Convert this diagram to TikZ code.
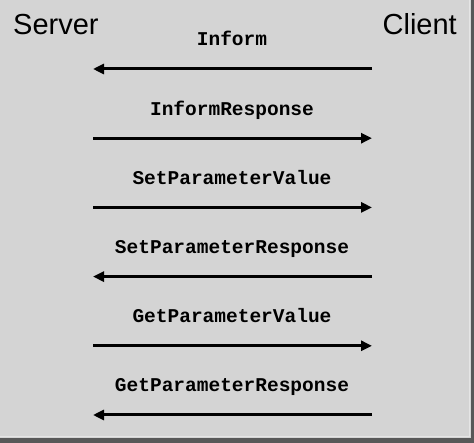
\documentclass[tikz,border=0pt]{standalone}
\usepackage{fontspec}
\setmainfont{Liberation Sans}
\newfontfamily\msgfont{Liberation Mono}
\usetikzlibrary{arrows.meta}
\definecolor{panel}{RGB}{212,212,212}
\definecolor{rim}{RGB}{88,88,88}

\begin{document}
\begin{tikzpicture}[x=1pt, y=-1pt,
    party/.style={font=\fontsize{29}{31}\selectfont, inner sep=0pt},
    msg/.style={font=\msgfont\bfseries\fontsize{19.5}{21}\selectfont, inner sep=0pt, anchor=base},
    flow/.style={line width=3pt, -{Triangle[length=11pt,width=10pt]}}]
    \useasboundingbox (0,0) rectangle (474,443);
    % Frame
    \fill[rim] (0,0) rectangle (474,443);
    \fill[panel] (0,0) rectangle (471,438);
    \draw[white!40!panel, line width=1pt] (0,436.5) -- (469.5,436.5) -- (469.5,0);

    % Parties
    \node[party, anchor=base west] (server) at (13,35) {Server};
    \node[party, anchor=base east] (client) at (457,35) {Client};

    % Messages (from -> to)
    \foreach \i/\txt/\from/\to in {0/Inform/c/s, 1/InformResponse/s/c, 2/SetParameterValue/s/c,
        3/SetParameterResponse/c/s, 4/GetParameterValue/s/c, 5/GetParameterResponse/c/s} {
        \coordinate (s\i) at (93, 69+69.2*\i);
        \coordinate (c\i) at (372, 69+69.2*\i);
        \node[msg] (m\i) at (232, 46+69.2*\i) {\txt};
        \draw[flow] (\from\i) -- (\to\i);
    }
\end{tikzpicture}
\end{document}
